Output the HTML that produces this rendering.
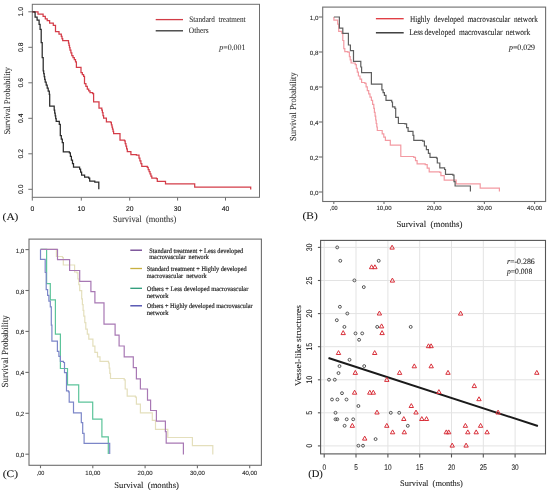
<!DOCTYPE html><html><head><meta charset="utf-8"><style>html,body{margin:0;padding:0;background:#fff;}svg{display:block;will-change:transform;text-rendering:geometricPrecision;}</style></head><body>
<svg width="550" height="493" viewBox="0 0 550 493">
<rect width="550" height="493" fill="#fff"/>
<g fill="none" stroke="#6e6e6e" stroke-width="1">
<rect x="32.3" y="4.3" width="227.2" height="193" />
<path d="M28.3 11.8 H32.3"/>
<path d="M28.3 47.3 H32.3"/>
<path d="M28.3 82.8 H32.3"/>
<path d="M28.3 118.3 H32.3"/>
<path d="M28.3 153.8 H32.3"/>
<path d="M28.3 189.3 H32.3"/>
<path d="M32.3 197.3 V200.6"/>
<path d="M81.3 197.3 V200.6"/>
<path d="M129.7 197.3 V200.6"/>
<path d="M177.6 197.3 V200.6"/>
<path d="M225.5 197.3 V200.6"/>
</g>
<text transform="translate(22.6 11.8) rotate(-90)" font-size="6.80" font-family="Liberation Sans, sans-serif" fill="#111" stroke="#111" stroke-width="0.08" text-anchor="middle">1.0</text>
<text transform="translate(22.6 47.3) rotate(-90)" font-size="6.80" font-family="Liberation Sans, sans-serif" fill="#111" stroke="#111" stroke-width="0.08" text-anchor="middle">0.8</text>
<text transform="translate(22.6 82.8) rotate(-90)" font-size="6.80" font-family="Liberation Sans, sans-serif" fill="#111" stroke="#111" stroke-width="0.08" text-anchor="middle">0.6</text>
<text transform="translate(22.6 118.3) rotate(-90)" font-size="6.80" font-family="Liberation Sans, sans-serif" fill="#111" stroke="#111" stroke-width="0.08" text-anchor="middle">0.4</text>
<text transform="translate(22.6 153.8) rotate(-90)" font-size="6.80" font-family="Liberation Sans, sans-serif" fill="#111" stroke="#111" stroke-width="0.08" text-anchor="middle">0.2</text>
<text transform="translate(22.6 189.3) rotate(-90)" font-size="6.80" font-family="Liberation Sans, sans-serif" fill="#111" stroke="#111" stroke-width="0.08" text-anchor="middle">0.0</text>
<text x="32.3" y="210.9" font-size="6.80" font-family="Liberation Sans, sans-serif" fill="#111" stroke="#111" stroke-width="0.08" text-anchor="middle" >0</text>
<text x="81.3" y="210.9" font-size="6.80" font-family="Liberation Sans, sans-serif" fill="#111" stroke="#111" stroke-width="0.08" text-anchor="middle" >10</text>
<text x="129.7" y="210.9" font-size="6.80" font-family="Liberation Sans, sans-serif" fill="#111" stroke="#111" stroke-width="0.08" text-anchor="middle" >20</text>
<text x="177.6" y="210.9" font-size="6.80" font-family="Liberation Sans, sans-serif" fill="#111" stroke="#111" stroke-width="0.08" text-anchor="middle" >30</text>
<text x="225.5" y="210.9" font-size="6.80" font-family="Liberation Sans, sans-serif" fill="#111" stroke="#111" stroke-width="0.08" text-anchor="middle" >40</text>
<text transform="translate(10.2 100.8) rotate(-90)" font-size="8.90" font-family="Liberation Serif, serif" fill="#333" stroke="#333" stroke-width="0.08" text-anchor="middle" textLength="67.6" lengthAdjust="spacingAndGlyphs">Survival Probability</text>
<text x="113.1" y="222.2" font-size="9.20" font-family="Liberation Serif, serif" fill="#333" stroke="#333" stroke-width="0.08" text-anchor="start" textLength="63.3" lengthAdjust="spacingAndGlyphs" >Survival&#160;&#160;(months)</text>
<text x="2.6" y="219.6" font-size="10.20" font-family="Liberation Serif, serif" fill="#111" stroke="#111" stroke-width="0.08" text-anchor="start" textLength="15.8" lengthAdjust="spacingAndGlyphs" >(A)</text>
<path d="M155.7 19.6H183" stroke="#d23c46" stroke-width="1.3"/>
<path d="M155.7 30.8H183" stroke="#333" stroke-width="1.3"/>
<text x="189.3" y="22.4" font-size="8.40" font-family="Liberation Serif, serif" fill="#333" stroke="#333" stroke-width="0.08" text-anchor="start" textLength="56.2" lengthAdjust="spacingAndGlyphs" >Standard&#8194;treatment</text>
<text x="188.8" y="32.7" font-size="8.40" font-family="Liberation Serif, serif" fill="#333" stroke="#333" stroke-width="0.08" text-anchor="start" textLength="19.8" lengthAdjust="spacingAndGlyphs" >Others</text>
<text x="219.2" y="50.3" font-size="8.40" font-family="Liberation Serif, serif" fill="#333" stroke="#333" stroke-width="0.08" text-anchor="start" textLength="26.3" lengthAdjust="spacingAndGlyphs" ><tspan font-style="italic">p</tspan>=0.001</text>
<path d="M32.3 11.8 H38.0 V14.0 H43.1 V16.3 H45.3 V18.8 H47.2 V20.7 H49.6 V23.2 H53.3 V25.4 H55.0 H55.5 V31.6 H59.0 V34.0 H61.3 V36.3 H62.0 V38.5 H62.7 V40.6 H67.0 H68.5 V43.0 H69.0 V45.3 H69.5 V47.7 H70.0 V50.0 H70.9 V52.8 H71.8 V55.5 H73.0 V57.6 H74.3 V59.7 H75.5 V61.8 H76.4 V67.3 H80.0 H81.0 V72.7 H82.3 V74.6 H83.6 V76.4 H84.5 V83.6 H85.9 V86.3 H87.3 V89.0 H88.7 V90.8 H90.0 V92.7 H92.7 V93.6 H93.6 V101.8 H98.2 H99.0 V108.2 H101.8 V110.0 H102.4 V112.7 H103.0 V115.5 H103.6 V118.2 H106.4 V121.8 H110.9 V122.7 H111.4 V124.9 H112.0 V127.1 H112.5 V129.2 H113.1 V131.4 H113.6 V133.6 H119.1 H120.0 V140.0 H124.5 V140.9 H125.2 V143.6 H125.9 V146.2 H126.6 V148.8 H127.3 V151.5 H130.9 V154.5 H136.4 V155.0 H139.0 V158.2 H139.9 V160.9 H140.9 V163.7 H141.8 V166.4 H147.3 V167.3 H148.2 V169.5 H149.1 V171.7 H150.0 V173.8 H150.9 V176.0 H151.8 V178.2 H156.4 V178.7 H157.3 V181.3 H164.5 H165.5 V183.9 H194.7 V187.0 H250.7 V189.5" fill="none" stroke="#d43c48" stroke-width="1.25"/>
<path d="M32.3 11.8 H34.5 V12.1 H35.1 V17.2 H37.1 V20.2 H39.1 V24.3 H40.1 V29.3 H41.2 V42.5 H42.2 V57.7 H43.2 V70.9 H43.7 V73.7 H44.2 V76.5 H44.7 V79.3 H45.2 V82.1 H46.2 V85.2 H47.2 V88.2 H48.2 V91.2 H49.3 V94.3 H49.7 V106.2 H54.2 V110.2 H54.7 V113.0 H55.2 V115.8 H55.7 V118.6 H56.2 V121.4 H59.3 V124.4 H60.3 V135.6 H61.3 V139.1 H62.3 V142.7 H63.3 V151.8 H69.4 V152.8 H70.4 V156.4 H71.4 V160.0 H72.5 V163.5 H73.5 V167.0 H79.6 V169.0 H80.6 V172.1 H81.6 V175.1 H84.6 V177.2 H88.7 V178.2 H89.7 V181.2 H94.8 V182.2 H98.8 V185.3 V189.3" fill="none" stroke="#2a2a2a" stroke-width="1.25"/>
<g fill="none" stroke="#6e6e6e" stroke-width="1.1">
<rect x="322.7" y="7.1" width="222.9" height="194.4" />
<path d="M318.8 17.0 H322.7"/>
<path d="M318.8 52.0 H322.7"/>
<path d="M318.8 87.0 H322.7"/>
<path d="M318.8 122.0 H322.7"/>
<path d="M318.8 157.0 H322.7"/>
<path d="M318.8 192.0 H322.7"/>
<path d="M333.8 201.5 V204"/>
<path d="M384.0 201.5 V204"/>
<path d="M434.2 201.5 V204"/>
<path d="M484.4 201.5 V204"/>
<path d="M534.6 201.5 V204"/>
</g>
<text x="318.4" y="19.8" font-size="6.20" font-family="Liberation Sans, sans-serif" fill="#222" stroke="#222" stroke-width="0.08" text-anchor="end" >1,0</text>
<text x="318.4" y="54.8" font-size="6.20" font-family="Liberation Sans, sans-serif" fill="#222" stroke="#222" stroke-width="0.08" text-anchor="end" >0,8</text>
<text x="318.4" y="89.8" font-size="6.20" font-family="Liberation Sans, sans-serif" fill="#222" stroke="#222" stroke-width="0.08" text-anchor="end" >0,6</text>
<text x="318.4" y="124.8" font-size="6.20" font-family="Liberation Sans, sans-serif" fill="#222" stroke="#222" stroke-width="0.08" text-anchor="end" >0,4</text>
<text x="318.4" y="159.8" font-size="6.20" font-family="Liberation Sans, sans-serif" fill="#222" stroke="#222" stroke-width="0.08" text-anchor="end" >0,2</text>
<text x="318.4" y="194.8" font-size="6.20" font-family="Liberation Sans, sans-serif" fill="#222" stroke="#222" stroke-width="0.08" text-anchor="end" >0,0</text>
<text x="333.8" y="210.2" font-size="6.20" font-family="Liberation Sans, sans-serif" fill="#222" stroke="#222" stroke-width="0.08" text-anchor="middle" textLength="7.6" lengthAdjust="spacingAndGlyphs" >,00</text>
<text x="384.0" y="210.2" font-size="6.20" font-family="Liberation Sans, sans-serif" fill="#222" stroke="#222" stroke-width="0.08" text-anchor="middle" textLength="15.0" lengthAdjust="spacingAndGlyphs" >10,00</text>
<text x="434.2" y="210.2" font-size="6.20" font-family="Liberation Sans, sans-serif" fill="#222" stroke="#222" stroke-width="0.08" text-anchor="middle" textLength="15.0" lengthAdjust="spacingAndGlyphs" >20,00</text>
<text x="484.4" y="210.2" font-size="6.20" font-family="Liberation Sans, sans-serif" fill="#222" stroke="#222" stroke-width="0.08" text-anchor="middle" textLength="15.0" lengthAdjust="spacingAndGlyphs" >30,00</text>
<text x="534.6" y="210.2" font-size="6.20" font-family="Liberation Sans, sans-serif" fill="#222" stroke="#222" stroke-width="0.08" text-anchor="middle" textLength="15.0" lengthAdjust="spacingAndGlyphs" >40,00</text>
<text transform="translate(296.2 106.7) rotate(-90)" font-size="9.20" font-family="Liberation Serif, serif" fill="#333" stroke="#333" stroke-width="0.08" text-anchor="middle" textLength="68.7" lengthAdjust="spacingAndGlyphs">Survival Probability</text>
<text x="396.4" y="226.6" font-size="8.80" font-family="Liberation Serif, serif" fill="#222" stroke="#222" stroke-width="0.08" text-anchor="start" textLength="66.0" lengthAdjust="spacingAndGlyphs" >Survival&#160;&#160;(months)</text>
<text x="302.5" y="219.4" font-size="10.20" font-family="Liberation Serif, serif" fill="#111" stroke="#111" stroke-width="0.08" text-anchor="start" textLength="15.2" lengthAdjust="spacingAndGlyphs" >(B)</text>
<path d="M375.9 18.7H403.7" stroke="#e0353c" stroke-width="1.3"/>
<path d="M375.9 32.8H403.7" stroke="#222" stroke-width="1.3"/>
<text x="409.9" y="21.7" font-size="8.80" font-family="Liberation Serif, serif" fill="#222" stroke="#222" stroke-width="0.08" text-anchor="start" textLength="128.0" lengthAdjust="spacingAndGlyphs" >Highly&#160; developed&#160; macrovascular&#160; network</text>
<text x="409.3" y="35.0" font-size="8.80" font-family="Liberation Serif, serif" fill="#222" stroke="#222" stroke-width="0.08" text-anchor="start" textLength="121.0" lengthAdjust="spacingAndGlyphs" >Less&#8201;developed&#160; macrovascular&#8201; network</text>
<text x="509.0" y="50.3" font-size="8.40" font-family="Liberation Serif, serif" fill="#222" stroke="#222" stroke-width="0.08" text-anchor="start" textLength="26.0" lengthAdjust="spacingAndGlyphs" ><tspan font-style="italic">p</tspan>=0.029</text>
<path d="M333.9 17.0 V20.2 H336.7 H337.7 V24.2 H338.7 V31.3 H341.8 V33.4 H342.8 V40.5 H343.8 V48.6 H344.8 V51.6 H347.8 V52.1 H349.4 V56.7 H350.2 V59.9 H351.1 V63.0 H355.2 V64.6 H356.3 V68.4 H357.3 V72.2 H358.4 V76.0 H360.0 V79.2 H361.6 V82.5 H364.9 V83.3 H366.1 V86.9 H367.3 V90.6 H368.7 V93.8 H370.0 V97.1 H371.4 V100.3 H372.6 V104.3 H373.8 V108.4 H374.4 V112.3 H375.1 V116.1 H375.7 V120.0 H376.2 V123.5 H376.8 V127.0 H377.3 V130.5 H382.2 V133.8 H383.8 V137.1 H385.4 V140.3 H390.3 V145.2 H400.0 H400.8 V156.5 H413.8 V157.3 H415.5 V160.6 H417.1 V163.8 H425.2 V164.6 H427.2 V168.2 H429.2 V171.9 H439.8 V172.3 H440.9 V175.7 H444.2 V180.1 H452.9 H456.2 V183.8 H479.1 H480.2 V188.2 H498.7 H499.4 V191.5" fill="none" stroke="#f39aa2" stroke-width="1.2"/>
<path d="M333.9 17.0 H339.2 H339.4 V28.1 H342.8 V33.4 H348.4 V45.0 H350.4 V50.6 H352.4 H353.5 V61.4 H360.0 H360.8 V67.0 H361.6 V72.7 H370.6 H371.4 V84.1 H381.1 H381.9 V89.8 H383.1 V92.6 H384.4 V95.4 H386.0 V100.3 H391.7 V102.0 H392.5 V106.8 H394.9 V108.4 H395.7 V117.3 H398.4 V118.2 V123.5 H405.0 V123.8 H406.6 V127.6 H408.1 V131.4 H413.0 V135.4 H413.8 V140.3 H422.7 V141.1 H424.4 V146.0 H426.4 V149.7 H428.4 V153.3 H430.0 V157.3 H436.5 V158.1 H437.3 V163.0 H439.8 V167.9 H444.6 V169.5 H445.5 V174.4 H452.9 V175.1 H454.0 V181.6 H455.1 V186.0 H470.4 V191.5" fill="none" stroke="#5e5e5e" stroke-width="1.2"/>
<g fill="none" stroke="#6e6e6e" stroke-width="1.1">
<rect x="29" y="239.1" width="232.4" height="226.2" />
<path d="M25.4 249.6 H29"/>
<path d="M25.4 290.5 H29"/>
<path d="M25.4 331.4 H29"/>
<path d="M25.4 372.4 H29"/>
<path d="M25.4 413.3 H29"/>
<path d="M25.4 454.2 H29"/>
<path d="M40.5 465.3 V468.2"/>
<path d="M92.8 465.3 V468.2"/>
<path d="M145.1 465.3 V468.2"/>
<path d="M197.4 465.3 V468.2"/>
<path d="M249.7 465.3 V468.2"/>
</g>
<text x="24.3" y="252.6" font-size="6.20" font-family="Liberation Sans, sans-serif" fill="#222" stroke="#222" stroke-width="0.08" text-anchor="end" >1,0</text>
<text x="24.3" y="293.5" font-size="6.20" font-family="Liberation Sans, sans-serif" fill="#222" stroke="#222" stroke-width="0.08" text-anchor="end" >0,8</text>
<text x="24.3" y="334.4" font-size="6.20" font-family="Liberation Sans, sans-serif" fill="#222" stroke="#222" stroke-width="0.08" text-anchor="end" >0,6</text>
<text x="24.3" y="375.4" font-size="6.20" font-family="Liberation Sans, sans-serif" fill="#222" stroke="#222" stroke-width="0.08" text-anchor="end" >0,4</text>
<text x="24.3" y="416.3" font-size="6.20" font-family="Liberation Sans, sans-serif" fill="#222" stroke="#222" stroke-width="0.08" text-anchor="end" >0,2</text>
<text x="24.3" y="457.2" font-size="6.20" font-family="Liberation Sans, sans-serif" fill="#222" stroke="#222" stroke-width="0.08" text-anchor="end" >0,0</text>
<text x="40.5" y="475.4" font-size="6.20" font-family="Liberation Sans, sans-serif" fill="#222" stroke="#222" stroke-width="0.08" text-anchor="middle" textLength="7.6" lengthAdjust="spacingAndGlyphs" >,00</text>
<text x="92.8" y="475.4" font-size="6.20" font-family="Liberation Sans, sans-serif" fill="#222" stroke="#222" stroke-width="0.08" text-anchor="middle" textLength="15.0" lengthAdjust="spacingAndGlyphs" >10,00</text>
<text x="145.1" y="475.4" font-size="6.20" font-family="Liberation Sans, sans-serif" fill="#222" stroke="#222" stroke-width="0.08" text-anchor="middle" textLength="15.0" lengthAdjust="spacingAndGlyphs" >20,00</text>
<text x="197.4" y="475.4" font-size="6.20" font-family="Liberation Sans, sans-serif" fill="#222" stroke="#222" stroke-width="0.08" text-anchor="middle" textLength="15.0" lengthAdjust="spacingAndGlyphs" >30,00</text>
<text x="249.7" y="475.4" font-size="6.20" font-family="Liberation Sans, sans-serif" fill="#222" stroke="#222" stroke-width="0.08" text-anchor="middle" textLength="15.0" lengthAdjust="spacingAndGlyphs" >40,00</text>
<text transform="translate(8.0 351.4) rotate(-90)" font-size="9.40" font-family="Liberation Serif, serif" fill="#333" stroke="#333" stroke-width="0.08" text-anchor="middle" textLength="72.3" lengthAdjust="spacingAndGlyphs">Survival Probability</text>
<text x="114.3" y="487.5" font-size="8.80" font-family="Liberation Serif, serif" fill="#222" stroke="#222" stroke-width="0.08" text-anchor="start" textLength="64.6" lengthAdjust="spacingAndGlyphs" >Survival&#160;&#160;(months)</text>
<text x="2.8" y="476.7" font-size="10.00" font-family="Liberation Serif, serif" fill="#111" stroke="#111" stroke-width="0.08" text-anchor="start" textLength="15.3" lengthAdjust="spacingAndGlyphs" >(C)</text>
<path d="M130.3 250.2 H142" stroke="#6a3c8c" stroke-width="1.3"/>
<text x="149.3" y="252.6" font-size="6.70" font-family="Liberation Serif, serif" fill="#222" stroke="#222" stroke-width="0.16" text-anchor="start" textLength="94.0" lengthAdjust="spacingAndGlyphs" >Standard treatment + Less developed</text>
<text x="149.3" y="259.4" font-size="6.70" font-family="Liberation Serif, serif" fill="#222" stroke="#222" stroke-width="0.16" text-anchor="start" textLength="59.6" lengthAdjust="spacingAndGlyphs" >macrovascular&#160; network</text>
<path d="M130.3 268.5 H142" stroke="#c8b040" stroke-width="1.3"/>
<text x="146.7" y="270.9" font-size="6.70" font-family="Liberation Serif, serif" fill="#222" stroke="#222" stroke-width="0.16" text-anchor="start" textLength="100.0" lengthAdjust="spacingAndGlyphs" >Standard treatment + Highly developed</text>
<text x="146.7" y="277.7" font-size="6.70" font-family="Liberation Serif, serif" fill="#222" stroke="#222" stroke-width="0.16" text-anchor="start" textLength="59.9" lengthAdjust="spacingAndGlyphs" >macrovascular&#160; network</text>
<path d="M130.3 288.3 H142" stroke="#2a9a78" stroke-width="1.3"/>
<text x="146.8" y="290.7" font-size="6.70" font-family="Liberation Serif, serif" fill="#222" stroke="#222" stroke-width="0.16" text-anchor="start" textLength="101.5" lengthAdjust="spacingAndGlyphs" >Others + Less developed macrovascular</text>
<text x="146.8" y="297.5" font-size="6.70" font-family="Liberation Serif, serif" fill="#222" stroke="#222" stroke-width="0.16" text-anchor="start" textLength="21.7" lengthAdjust="spacingAndGlyphs" >network</text>
<path d="M130.3 305.8 H142" stroke="#4040a8" stroke-width="1.3"/>
<text x="146.8" y="308.2" font-size="6.70" font-family="Liberation Serif, serif" fill="#222" stroke="#222" stroke-width="0.16" text-anchor="start" textLength="105.7" lengthAdjust="spacingAndGlyphs" >Others + Highly developed macrovascular</text>
<text x="146.8" y="315.0" font-size="6.70" font-family="Liberation Serif, serif" fill="#222" stroke="#222" stroke-width="0.16" text-anchor="start" textLength="21.7" lengthAdjust="spacingAndGlyphs" >network</text>
<path d="M40.5 249.4 H55.4 H56.4 V256.5 H62.5 V257.7 H63.3 V265.0 H74.6 V272.0 H77.0 V272.8 H77.9 V278.8 H78.8 V284.7 H79.7 V290.7 H81.7 V298.8 H82.4 V304.6 H83.1 V310.3 H83.8 V316.1 H84.8 V322.6 H85.8 V329.2 H87.3 V334.1 H88.8 V339.1 H92.9 V346.2 H94.9 V352.3 H97.5 V356.9 H100.0 V361.4 H108.5 V363.0 H109.2 V368.2 H109.8 V373.3 H110.5 V378.5 H124.2 V379.8 H125.2 V389.0 H127.2 V396.1 H135.4 V397.1 H136.4 V404.2 H140.4 V405.2 V412.9 H151.5 H152.3 V420.3 H155.5 V421.1 V429.3 H167.8 V437.5 H192.4 V445.6 H212.8 V454.6" fill="none" stroke="#e4dfbc" stroke-width="1.2"/>
<path d="M40.5 249.4 H46.6 V283.6 H50.3 V299.8 H55.4 V334.2 H60.4 V368.5 H67.5 V384.8 H78.7 V402.1 H92.7 V419.2 H101.9 V436.9 H108.3 V454.0" fill="none" stroke="#5cc49a" stroke-width="1.2"/>
<path d="M40.5 249.4 V259.3 H44.2 H45.2 V272.5 H46.2 V289.7 H47.6 V295.4 H48.9 V301.2 H50.3 V306.9 H51.3 V325.2 H51.9 V341.2 H56.4 H57.4 V351.3 H58.9 V356.4 H60.4 V361.4 H63.5 V362.5 H64.5 V372.6 H66.5 V373.6 V390.9 H68.5 V391.9 H69.2 V402.1 H73.5 V412.8 H81.3 V422.7 H82.7 V423.4 V433.4 H84.1 V434.1 V443.3 H109.7 V454.0" fill="none" stroke="#7c86c8" stroke-width="1.2"/>
<path d="M40.5 249.4 H57.5 V259.6 H69.6 V270.5 H79.7 V281.4 H90.8 H90.9 V291.7 H94.9 V302.9 H104.0 V324.2 H115.1 V335.2 H119.1 V346.0 H124.2 V356.9 H133.3 V367.7 H136.4 V378.8 H140.4 V389.0 H147.5 V400.1 H150.6 V410.5 H156.4 V421.1 H164.5 H165.4 V431.7 H166.2 V432.6 V443.2 H183.4 V454.6" fill="none" stroke="#a878b4" stroke-width="1.2"/>
<g fill="none" stroke="#e3e3e3" stroke-width="1">
<path d="M320.7 445.9 H545.4"/>
<path d="M320.7 412.8 H545.4"/>
<path d="M320.7 379.8 H545.4"/>
<path d="M320.7 346.7 H545.4"/>
<path d="M320.7 313.6 H545.4"/>
<path d="M320.7 280.5 H545.4"/>
<path d="M320.7 247.4 H545.4"/>
<path d="M324.2 240.4 V453.9"/>
<path d="M356.0 240.4 V453.9"/>
<path d="M387.9 240.4 V453.9"/>
<path d="M419.7 240.4 V453.9"/>
<path d="M451.5 240.4 V453.9"/>
<path d="M483.3 240.4 V453.9"/>
<path d="M515.1 240.4 V453.9"/>
</g>
<g fill="none" stroke="#555" stroke-width="1.1">
<rect x="320.6" y="240.4" width="224.9" height="213.5"/>
<path d="M317.9 445.9 H320.6"/>
<path d="M324.2 453.9 V457.5"/>
<path d="M317.9 412.8 H320.6"/>
<path d="M356.0 453.9 V457.5"/>
<path d="M317.9 379.8 H320.6"/>
<path d="M387.9 453.9 V457.5"/>
<path d="M317.9 346.7 H320.6"/>
<path d="M419.7 453.9 V457.5"/>
<path d="M317.9 313.6 H320.6"/>
<path d="M451.5 453.9 V457.5"/>
<path d="M317.9 280.5 H320.6"/>
<path d="M483.3 453.9 V457.5"/>
<path d="M317.9 247.4 H320.6"/>
<path d="M515.1 453.9 V457.5"/>
</g>
<text transform="translate(311.9 445.9) rotate(-90)" font-size="8.20" font-family="Liberation Sans, sans-serif" fill="#222" stroke="#222" stroke-width="0.08" text-anchor="middle" textLength="3.9" lengthAdjust="spacingAndGlyphs">0</text>
<text x="324.2" y="469.8" font-size="8.20" font-family="Liberation Sans, sans-serif" fill="#222" stroke="#222" stroke-width="0.08" text-anchor="middle" textLength="3.6" lengthAdjust="spacingAndGlyphs" >0</text>
<text transform="translate(311.9 412.8) rotate(-90)" font-size="8.20" font-family="Liberation Sans, sans-serif" fill="#222" stroke="#222" stroke-width="0.08" text-anchor="middle" textLength="3.9" lengthAdjust="spacingAndGlyphs">5</text>
<text x="356.0" y="469.8" font-size="8.20" font-family="Liberation Sans, sans-serif" fill="#222" stroke="#222" stroke-width="0.08" text-anchor="middle" textLength="3.6" lengthAdjust="spacingAndGlyphs" >5</text>
<text transform="translate(311.9 379.8) rotate(-90)" font-size="8.20" font-family="Liberation Sans, sans-serif" fill="#222" stroke="#222" stroke-width="0.08" text-anchor="middle" textLength="7.8" lengthAdjust="spacingAndGlyphs">10</text>
<text x="387.9" y="469.8" font-size="8.20" font-family="Liberation Sans, sans-serif" fill="#222" stroke="#222" stroke-width="0.08" text-anchor="middle" textLength="7.2" lengthAdjust="spacingAndGlyphs" >10</text>
<text transform="translate(311.9 346.7) rotate(-90)" font-size="8.20" font-family="Liberation Sans, sans-serif" fill="#222" stroke="#222" stroke-width="0.08" text-anchor="middle" textLength="7.8" lengthAdjust="spacingAndGlyphs">15</text>
<text x="419.7" y="469.8" font-size="8.20" font-family="Liberation Sans, sans-serif" fill="#222" stroke="#222" stroke-width="0.08" text-anchor="middle" textLength="7.2" lengthAdjust="spacingAndGlyphs" >15</text>
<text transform="translate(311.9 313.6) rotate(-90)" font-size="8.20" font-family="Liberation Sans, sans-serif" fill="#222" stroke="#222" stroke-width="0.08" text-anchor="middle" textLength="7.8" lengthAdjust="spacingAndGlyphs">20</text>
<text x="451.5" y="469.8" font-size="8.20" font-family="Liberation Sans, sans-serif" fill="#222" stroke="#222" stroke-width="0.08" text-anchor="middle" textLength="7.2" lengthAdjust="spacingAndGlyphs" >20</text>
<text transform="translate(311.9 280.5) rotate(-90)" font-size="8.20" font-family="Liberation Sans, sans-serif" fill="#222" stroke="#222" stroke-width="0.08" text-anchor="middle" textLength="7.8" lengthAdjust="spacingAndGlyphs">25</text>
<text x="483.3" y="469.8" font-size="8.20" font-family="Liberation Sans, sans-serif" fill="#222" stroke="#222" stroke-width="0.08" text-anchor="middle" textLength="7.2" lengthAdjust="spacingAndGlyphs" >25</text>
<text transform="translate(311.9 247.4) rotate(-90)" font-size="8.20" font-family="Liberation Sans, sans-serif" fill="#222" stroke="#222" stroke-width="0.08" text-anchor="middle" textLength="7.8" lengthAdjust="spacingAndGlyphs">30</text>
<text x="515.1" y="469.8" font-size="8.20" font-family="Liberation Sans, sans-serif" fill="#222" stroke="#222" stroke-width="0.08" text-anchor="middle" textLength="7.2" lengthAdjust="spacingAndGlyphs" >30</text>
<text transform="translate(300.8 345.5) rotate(-90)" font-size="8.60" font-family="Liberation Serif, serif" fill="#222" stroke="#222" stroke-width="0.08" text-anchor="middle" textLength="81.0" lengthAdjust="spacingAndGlyphs">Vessel-like structures</text>
<text x="400.1" y="485.7" font-size="8.60" font-family="Liberation Serif, serif" fill="#222" stroke="#222" stroke-width="0.08" text-anchor="start" textLength="62.7" lengthAdjust="spacingAndGlyphs" >Survival&#160;&#160;(months)</text>
<text x="308.2" y="477.0" font-size="10.20" font-family="Liberation Serif, serif" fill="#111" stroke="#111" stroke-width="0.08" text-anchor="start" textLength="14.7" lengthAdjust="spacingAndGlyphs" >(D)</text>
<text x="507.0" y="264.2" font-size="8.20" font-family="Liberation Serif, serif" fill="#222" stroke="#222" stroke-width="0.08" text-anchor="start" textLength="27.8" lengthAdjust="spacingAndGlyphs" ><tspan font-style="italic">r</tspan>=-0.286</text>
<text x="507.0" y="273.8" font-size="8.20" font-family="Liberation Serif, serif" fill="#222" stroke="#222" stroke-width="0.08" text-anchor="start" textLength="25.2" lengthAdjust="spacingAndGlyphs" ><tspan font-style="italic">p</tspan>=0.008</text>
<path d="M328.5 358 L537.9 426" stroke="#1a1a1a" stroke-width="1.9"/>
<g fill="none" stroke="#444" stroke-width="0.9">
<circle cx="337.2" cy="247.4" r="1.45"/>
<circle cx="340.3" cy="260.8" r="1.45"/>
<circle cx="378.7" cy="260.8" r="1.45"/>
<circle cx="354.4" cy="280.4" r="1.45"/>
<circle cx="363.8" cy="287.1" r="1.45"/>
<circle cx="339.9" cy="306.8" r="1.45"/>
<circle cx="347.3" cy="313.5" r="1.45"/>
<circle cx="336.8" cy="320.2" r="1.45"/>
<circle cx="344.4" cy="326.9" r="1.45"/>
<circle cx="377.2" cy="326.9" r="1.45"/>
<circle cx="410.7" cy="326.9" r="1.45"/>
<circle cx="355.5" cy="333.4" r="1.45"/>
<circle cx="362.2" cy="333.4" r="1.45"/>
<circle cx="359.1" cy="339.8" r="1.45"/>
<circle cx="349.5" cy="359.8" r="1.45"/>
<circle cx="339.5" cy="366.1" r="1.45"/>
<circle cx="364.2" cy="366.1" r="1.45"/>
<circle cx="338.5" cy="373.1" r="1.45"/>
<circle cx="329.0" cy="379.7" r="1.45"/>
<circle cx="334.8" cy="379.7" r="1.45"/>
<circle cx="342.0" cy="393.2" r="1.45"/>
<circle cx="332.0" cy="399.5" r="1.45"/>
<circle cx="337.4" cy="399.5" r="1.45"/>
<circle cx="346.5" cy="399.5" r="1.45"/>
<circle cx="358.4" cy="406.0" r="1.45"/>
<circle cx="335.5" cy="412.8" r="1.45"/>
<circle cx="390.8" cy="412.8" r="1.45"/>
<circle cx="399.2" cy="412.8" r="1.45"/>
<circle cx="335.5" cy="419.3" r="1.45"/>
<circle cx="337.3" cy="419.3" r="1.45"/>
<circle cx="346.7" cy="419.3" r="1.45"/>
<circle cx="353.2" cy="419.3" r="1.45"/>
<circle cx="344.6" cy="425.8" r="1.45"/>
<circle cx="407.8" cy="425.8" r="1.45"/>
<circle cx="375.6" cy="439.1" r="1.45"/>
<circle cx="358.4" cy="445.7" r="1.45"/>
<circle cx="363.0" cy="445.7" r="1.45"/>
</g>
<g fill="none" stroke="#d9303a" stroke-width="1">
<path d="M392.1 245.2 L389.9 249.1 L394.3 249.1 Z"/>
<path d="M371.6 264.8 L369.4 268.7 L373.8 268.7 Z"/>
<path d="M374.9 264.8 L372.7 268.7 L377.1 268.7 Z"/>
<path d="M392.4 278.1 L390.2 282.1 L394.6 282.1 Z"/>
<path d="M379.4 311.1 L377.2 315.0 L381.6 315.0 Z"/>
<path d="M381.6 323.9 L379.4 327.9 L383.8 327.9 Z"/>
<path d="M343.2 330.6 L341.0 334.6 L345.4 334.6 Z"/>
<path d="M382.1 330.6 L379.9 334.6 L384.3 334.6 Z"/>
<path d="M428.5 343.8 L426.3 347.7 L430.7 347.7 Z"/>
<path d="M431.1 343.8 L428.9 347.7 L433.3 347.7 Z"/>
<path d="M460.6 311.1 L458.4 315.1 L462.8 315.1 Z"/>
<path d="M338.5 350.6 L336.3 354.5 L340.7 354.5 Z"/>
<path d="M374.7 350.6 L372.5 354.5 L376.9 354.5 Z"/>
<path d="M355.3 370.4 L353.1 374.4 L357.5 374.4 Z"/>
<path d="M414.3 363.9 L412.1 367.8 L416.5 367.8 Z"/>
<path d="M431.2 363.9 L429.0 367.8 L433.4 367.8 Z"/>
<path d="M399.6 370.4 L397.4 374.4 L401.8 374.4 Z"/>
<path d="M386.8 377.4 L384.6 381.4 L389.0 381.4 Z"/>
<path d="M354.6 390.2 L352.4 394.2 L356.8 394.2 Z"/>
<path d="M369.8 390.2 L367.6 394.2 L372.0 394.2 Z"/>
<path d="M373.3 390.2 L371.1 394.2 L375.5 394.2 Z"/>
<path d="M377.0 410.1 L374.8 414.0 L379.2 414.0 Z"/>
<path d="M411.3 403.6 L409.1 407.5 L413.5 407.5 Z"/>
<path d="M416.0 410.1 L413.8 414.0 L418.2 414.0 Z"/>
<path d="M403.8 416.6 L401.6 420.5 L406.0 420.5 Z"/>
<path d="M421.8 416.6 L419.6 420.5 L424.0 420.5 Z"/>
<path d="M426.5 416.6 L424.3 420.5 L428.7 420.5 Z"/>
<path d="M352.3 423.4 L350.1 427.3 L354.5 427.3 Z"/>
<path d="M386.8 423.4 L384.6 427.3 L389.0 427.3 Z"/>
<path d="M392.6 429.9 L390.4 433.8 L394.8 433.8 Z"/>
<path d="M404.3 429.9 L402.1 433.8 L406.5 433.8 Z"/>
<path d="M364.7 436.1 L362.5 440.1 L366.9 440.1 Z"/>
<path d="M448.0 370.4 L445.8 374.3 L450.2 374.3 Z"/>
<path d="M536.8 370.4 L534.6 374.3 L539.0 374.3 Z"/>
<path d="M474.3 383.6 L472.1 387.6 L476.5 387.6 Z"/>
<path d="M438.9 389.6 L436.7 393.5 L441.1 393.5 Z"/>
<path d="M479.0 396.8 L476.8 400.7 L481.2 400.7 Z"/>
<path d="M498.1 410.1 L495.9 414.0 L500.3 414.0 Z"/>
<path d="M465.4 423.4 L463.2 427.3 L467.6 427.3 Z"/>
<path d="M480.6 423.4 L478.4 427.3 L482.8 427.3 Z"/>
<path d="M446.3 429.9 L444.1 433.8 L448.5 433.8 Z"/>
<path d="M448.7 429.9 L446.5 433.8 L450.9 433.8 Z"/>
<path d="M467.8 429.9 L465.6 433.8 L470.0 433.8 Z"/>
<path d="M476.2 429.9 L474.0 433.8 L478.4 433.8 Z"/>
<path d="M487.1 429.9 L484.9 433.8 L489.3 433.8 Z"/>
<path d="M452.2 443.1 L450.0 447.1 L454.4 447.1 Z"/>
<path d="M466.1 443.1 L463.9 447.1 L468.3 447.1 Z"/>
</g>
</svg></body></html>
